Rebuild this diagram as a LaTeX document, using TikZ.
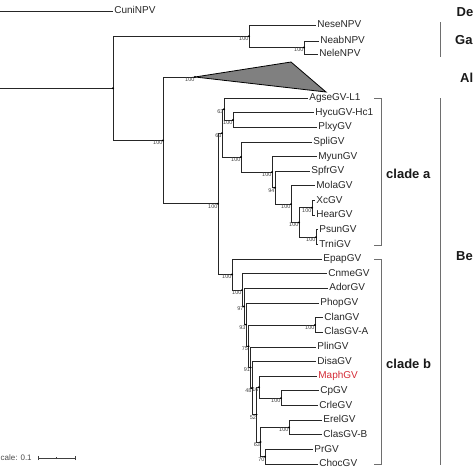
\documentclass[tikz,border=0pt]{standalone}
\usepackage{fontspec}
\setmainfont{Liberation Sans}
\definecolor{maphred}{HTML}{D42A35}
\definecolor{brk}{HTML}{6E6E6E}
\tikzset{
  branch/.style={line width=0.8pt, black!85},
  tip/.style={anchor=west, inner sep=1.2pt, text height=7.2pt, text depth=2pt, font=\fontsize{10}{12}\selectfont, text=black!85},
  bs/.style={anchor=north east, inner sep=0.4pt, font=\fontsize{5.5}{6}\selectfont, text=black!75},
  grp/.style={anchor=west, inner sep=0pt, font=\fontsize{13}{15}\selectfont\bfseries, text=black!90},
  brace/.style={line width=0.8pt, brk},
}
\newcommand{\nd}[1]{\fill[black] (#1) circle (1.1pt);}

\begin{document}
\begin{tikzpicture}[x=1pt,y=-1pt]
\useasboundingbox (0,0) rectangle (474,474);
% outgroup and root
\coordinate (cuniin) at (0,11);
\coordinate (rootin) at (0,88.3);
\coordinate (root) at (113,88.3);
\node[tip] (cuni) at (113,11) {CuniNPV};
\draw[branch] (cuniin) -- (cuni.west);
\draw[branch] (rootin) -- (root);
% gamma
\coordinate (ga) at (249,36.3);
\coordinate (nn) at (304,47.5);
\node[tip] (nese) at (316,25) {NeseNPV};
\node[tip] (neab) at (319,41) {NeabNPV};
\node[tip] (nele) at (318,54) {NeleNPV};
\draw[branch] (root) |- (ga);
\draw[branch] (ga) |- (nese.west);
\draw[branch] (ga) |- (nn);
\draw[branch] (nn) |- (neab.west);
\draw[branch] (nn) |- (nele.west);
% alpha + beta
\coordinate (ab) at (163,140.4);
\coordinate (al) at (195,77);
\coordinate (alt) at (291,62);
\coordinate (alb) at (326,92);
\coordinate (be) at (218,203.8);
\draw[branch] (root) |- (ab);
\draw[branch] (ab) |- (al);
\draw[branch] (ab) |- (be);
\filldraw[fill=black!50, draw=black, line width=0.8pt, line join=miter] (al) -- (alt) -- (alb) -- cycle;
% clade a
\coordinate (ca) at (222,133.1);
\coordinate (ahp) at (224,109.3);
\coordinate (hp) at (233,119.95);
\coordinate (sg) at (241,157);
\coordinate (x1) at (272,172.1);
\coordinate (y1) at (275,187.7);
\coordinate (z1) at (291,204.1);
\coordinate (w1) at (299,222.4);
\coordinate (xh) at (312,207.8);
\coordinate (pt) at (316,237.1);
\node[tip] (agse) at (308,98.0) {AgseGV-L1};
\node[tip] (hycu) at (314,112.6) {HycuGV-Hc1};
\node[tip] (plxy) at (317,127.3) {PlxyGV};
\node[tip] (spli) at (312,141.9) {SpliGV};
\node[tip] (myun) at (317,156.6) {MyunGV};
\node[tip] (spfr) at (310,171.2) {SpfrGV};
\node[tip] (mola) at (315,185.8) {MolaGV};
\node[tip] (xc) at (315,200.5) {XcGV};
\node[tip] (hear) at (315,215.1) {HearGV};
\node[tip] (psun) at (318,229.8) {PsunGV};
\node[tip] (trni) at (318,244.4) {TrniGV};
\draw[branch] (be) |- (ca);
\draw[branch] (ca) |- (ahp);
\draw[branch] (ca) |- (sg);
\draw[branch] (ahp) |- (agse.west);
\draw[branch] (ahp) |- (hp);
\draw[branch] (hp) |- (hycu.west);
\draw[branch] (hp) |- (plxy.west);
\draw[branch] (sg) |- (spli.west);
\draw[branch] (sg) |- (x1);
\draw[branch] (x1) |- (myun.west);
\draw[branch] (x1) |- (y1);
\draw[branch] (y1) |- (spfr.west);
\draw[branch] (y1) |- (z1);
\draw[branch] (z1) |- (mola.west);
\draw[branch] (z1) |- (w1);
\draw[branch] (w1) |- (xh);
\draw[branch] (w1) |- (pt);
\draw[branch] (xh) |- (xc.west);
\draw[branch] (xh) |- (hear.west);
\draw[branch] (pt) |- (psun.west);
\draw[branch] (pt) |- (trni.west);
% clade b
\coordinate (b0) at (232,274.55);
\coordinate (b1) at (242,290.1);
\coordinate (b2) at (244,306.45);
\coordinate (b3) at (246,324.6);
\coordinate (b4) at (248.5,346.2);
\coordinate (b5) at (250.5,367.5);
\coordinate (b6) at (252,388.05);
\coordinate (cc) at (315,324.9);
\coordinate (r1) at (256.5,414.6);
\coordinate (m1) at (259,387.15);
\coordinate (cpc) at (281,398.1);
\coordinate (q1) at (260.5,442.05);
\coordinate (ec) at (289,427.4);
\coordinate (pc) at (265,456.7);
\node[tip] (epap) at (322,259.0) {EpapGV};
\node[tip] (cnme) at (327,273.7) {CnmeGV};
\node[tip] (ador) at (328,288.3) {AdorGV};
\node[tip] (phop) at (319,303.0) {PhopGV};
\node[tip] (clan) at (323,317.6) {ClanGV};
\node[tip] (clasa) at (323,332.2) {ClasGV-A};
\node[tip] (plin) at (316,346.9) {PlinGV};
\node[tip] (disa) at (316,361.5) {DisaGV};
\node[tip, text=maphred] (maph) at (317,376.2) {MaphGV};
\node[tip] (cp) at (319,390.8) {CpGV};
\node[tip] (crle) at (318,405.4) {CrleGV};
\node[tip] (erel) at (322,420.1) {ErelGV};
\node[tip] (clasb) at (322,434.7) {ClasGV-B};
\node[tip] (pr) at (313,449.4) {PrGV};
\node[tip] (choc) at (318,464.0) {ChocGV};
\draw[branch] (be) |- (b0);
\draw[branch] (b0) |- (epap.west);
\draw[branch] (b0) |- (b1);
\draw[branch] (b1) |- (cnme.west);
\draw[branch] (b1) |- (b2);
\draw[branch] (b2) |- (ador.west);
\draw[branch] (b2) |- (b3);
\draw[branch] (b3) |- (phop.west);
\draw[branch] (b3) |- (b4);
\draw[branch] (b4) |- (cc);
\draw[branch] (cc) |- (clan.west);
\draw[branch] (cc) |- (clasa.west);
\draw[branch] (b4) |- (b5);
\draw[branch] (b5) |- (plin.west);
\draw[branch] (b5) |- (b6);
\draw[branch] (b6) |- (disa.west);
\draw[branch] (b6) |- (r1);
\draw[branch] (r1) |- (m1);
\draw[branch] (m1) |- (maph.west);
\draw[branch] (m1) |- (cpc);
\draw[branch] (cpc) |- (cp.west);
\draw[branch] (cpc) |- (crle.west);
\draw[branch] (r1) |- (q1);
\draw[branch] (q1) |- (ec);
\draw[branch] (ec) |- (erel.west);
\draw[branch] (ec) |- (clasb.west);
\draw[branch] (q1) |- (pc);
\draw[branch] (pc) |- (pr.west);
\draw[branch] (pc) |- (choc.west);
% node dots
\nd{root} \nd{ga} \nd{nn} \nd{ab} \nd{al} \nd{be}
\nd{ca} \nd{ahp} \nd{hp} \nd{sg} \nd{x1} \nd{y1} \nd{z1} \nd{w1} \nd{xh} \nd{pt}
\nd{b0} \nd{b1} \nd{b2} \nd{b3} \nd{b4} \nd{b5} \nd{b6} \nd{cc} \nd{r1} \nd{m1} \nd{cpc} \nd{q1} \nd{ec} \nd{pc}
% bootstrap values
\node[bs] (s-ga) at (ga) {100};
\node[bs] (s-nn) at (nn) {100};
\node[bs] (s-ab) at (ab) {100};
\node[bs] (s-al) at (al) {100};
\node[bs] (s-be) at (be) {100};
\node[bs] (s-ca) at (ca) {63};
\node[bs] (s-ahp) at (ahp) {63};
\node[bs] (s-hp) at (hp) {100};
\node[bs] (s-sg) at (sg) {100};
\node[bs] (s-x1) at (x1) {100};
\node[bs] (s-y1) at (y1) {94};
\node[bs] (s-z1) at (z1) {100};
\node[bs] (s-w1) at (w1) {100};
\node[bs] (s-xh) at (xh) {100};
\node[bs] (s-pt) at (pt) {100};
\node[bs] (s-b0) at (b0) {100};
\node[bs] (s-b1) at (b1) {100};
\node[bs] (s-b2) at (b2) {97};
\node[bs] (s-b3) at (b3) {93};
\node[bs] (s-b4) at (b4) {75};
\node[bs] (s-b5) at (b5) {91};
\node[bs] (s-b6) at (b6) {48};
\node[bs] (s-cc) at (cc) {100};
\node[bs] (s-r1) at (r1) {52};
\node[bs] (s-m1) at (m1) {16};
\node[bs] (s-cpc) at (cpc) {100};
\node[bs] (s-q1) at (q1) {63};
\node[bs] (s-ec) at (ec) {100};
\node[bs] (s-pc) at (pc) {70};
% brackets and group names
\draw[brace] (374,98) -- (381,98) -- (381,245) -- (374,245);
\draw[brace] (374,259) -- (381,259) -- (381,464) -- (374,464);
\draw[brace] (440,22) -- (440,57);
\draw[brace] (440,98) -- (440,465);
\node[grp] (cladea) at (386,174) {clade a};
\node[grp] (cladeb) at (386,364) {clade b};
\node[grp] (de) at (456.5,12) {De};
\node[grp] (gam) at (455,40) {Ga};
\node[grp] (alp) at (460,78) {Al};
\node[grp] (bet) at (456,256) {Be};
% scale bar
\coordinate (sb1) at (38,458);
\coordinate (sb2) at (75,458);
\coordinate (sbm) at (56.5,458);
\node[anchor=west, inner sep=0pt, font=\fontsize{8}{9}\selectfont, text=black!70] (sclab) at (0.5,458) {cale: 0.1};
\draw[line width=0.8pt, black!75] (sb1) -- (sb2);
\draw[line width=0.8pt, black!75] ([yshift=-2pt]sb1) -- ([yshift=2pt]sb1);
\draw[line width=0.8pt, black!75] ([yshift=-2pt]sb2) -- ([yshift=2pt]sb2);
\draw[line width=0.6pt, black!75] ([yshift=-1.2pt]sbm) -- ([yshift=1.2pt]sbm);
\end{tikzpicture}
\end{document}
